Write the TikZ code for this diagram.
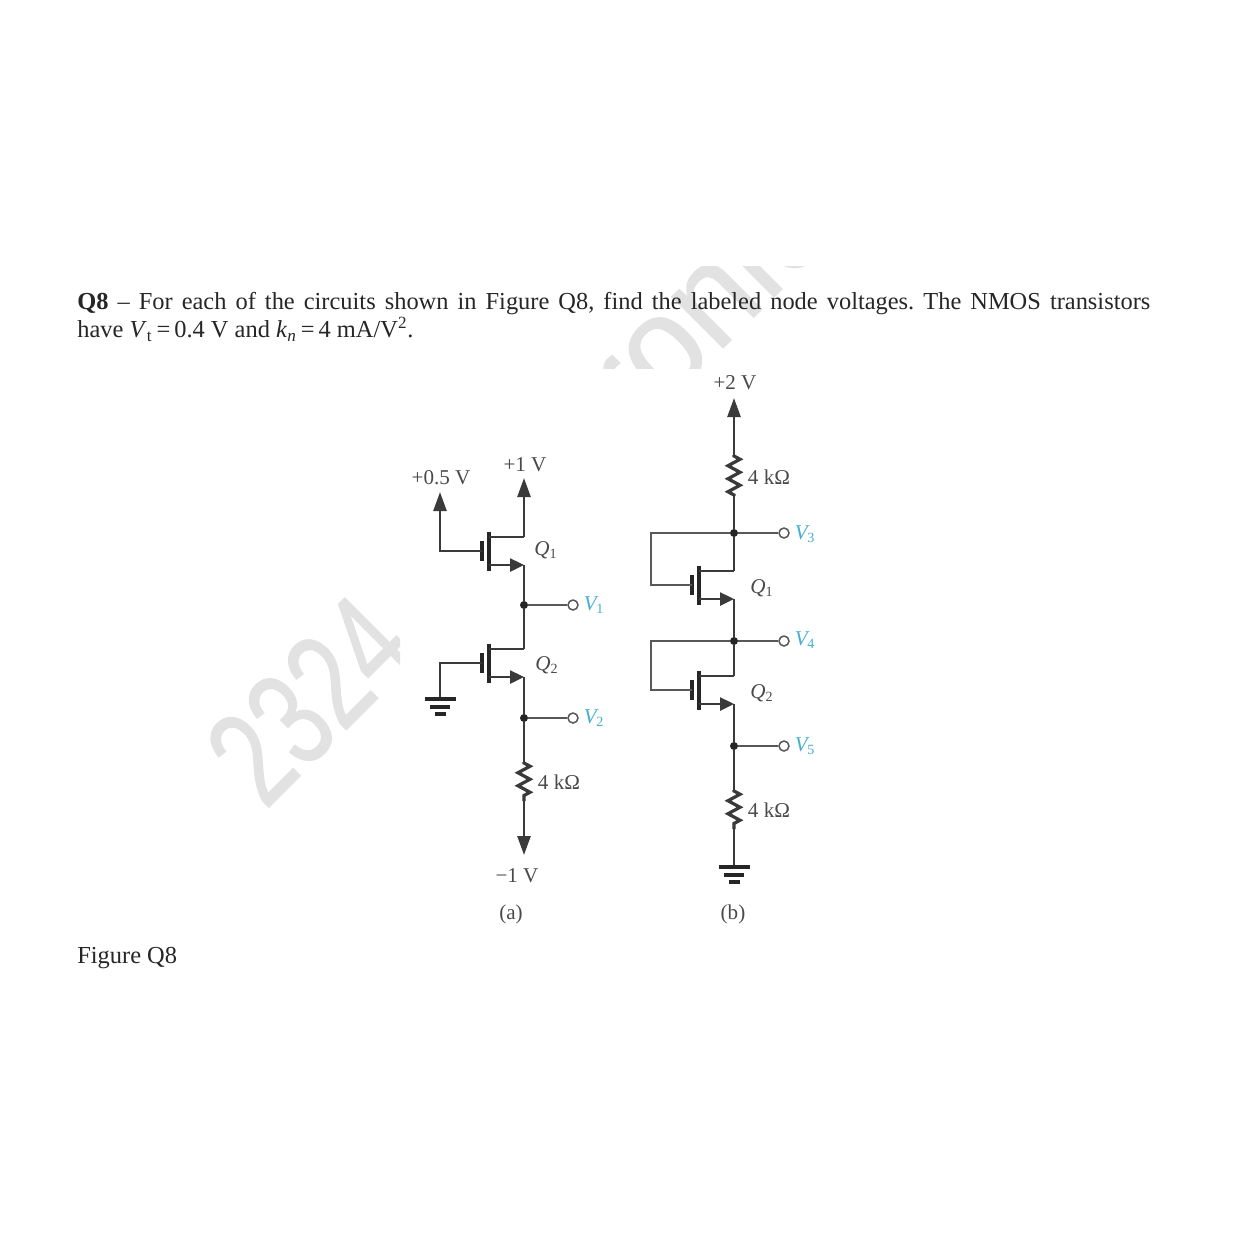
\documentclass[tikz,border=0pt]{standalone}
\usepackage{fontspec}
\setmainfont{Liberation Serif}
\newfontfamily\markfont[FakeBold=0.8]{Liberation Sans}
\usepackage{xcolor}
\usepackage{tikz}
\usetikzlibrary{arrows.meta,decorations.pathmorphing}

\definecolor{wirecol}{HTML}{3A3A3A}
\definecolor{labelcol}{HTML}{4A4A4A}
\definecolor{termcol}{HTML}{45AFCF}
\definecolor{markcol}{HTML}{E2E2E2}

\tikzset{
    wire/.style={line width=0.5mm, color=wirecol},
    thinwire/.style={line width=0.32mm, color=wirecol!85},
    bar/.style={line width=0.8mm, color=black!85},
    arrowup/.style={wire, -{Triangle[length=3.8mm,width=2.6mm]}},
    srcarrow/.style={wire, -{Triangle[length=2.8mm,width=2.6mm]}},
    dotnode/.style={circle, fill=black!85, inner sep=0pt, minimum size=1.6mm},
    terminal/.style={circle, draw=wirecol!85, fill=white, line width=0.3mm, inner sep=0pt, minimum size=2mm},
    res/.style={wire, line width=0.65mm, decorate, decoration={zigzag, segment length=2.6mm, amplitude=1.2mm, pre length=0.2mm, post length=0.2mm}},
    lbl/.style={text=labelcol, font=\fontsize{12}{14}\selectfont, inner sep=0pt},
    vlbl/.style={text=termcol, font=\fontsize{12}{14}\selectfont, inner sep=0pt},
    body/.style={text=black!85, font=\fontsize{13.9}{16.4}\selectfont, inner sep=0pt, anchor=base west},
    markfont/.style={rotate=45, text=markcol, inner sep=0pt, anchor=base west, xscale=0.72,
        font=\markfont\fontsize{78}{78}\selectfont}
}

% one NMOS: #1 name, #2 x of the drain/source line, #3 y of the drain
\newcommand{\nmos}[3]{
    \coordinate (#1d) at (#2,#3);
    \coordinate (#1s) at (#2,#3+28);
    \coordinate (#1g) at (#2-42,#3+14);
    \draw[bar] (#2-35,#3-5.5) -- (#2-35,#3+33.5);
    \draw[bar] (#2-42,#3+4) -- (#2-42,#3+24);
    \draw[wire] (#2-35,#3) -- (#1d);
    \draw[srcarrow] (#2-35,#3+28) -- (#1s);
}

\newcommand{\gnd}[2]{
    \draw[bar] (#1-15.5,#2) -- (#1+15.5,#2);
    \draw[bar] (#1-10,#2+7.5) -- (#1+10,#2+7.5);
    \draw[bar] (#1-5.5,#2+15) -- (#1+5.5,#2+15);
}

\begin{document}
\frenchspacing
\begin{tikzpicture}[x=0.02cm,y=-0.02cm]
    \useasboundingbox (0,0) rectangle (1259,1259);
    \fill[white] (0,0) rectangle (1259,1259);

    % watermark pieces
    \begin{scope}
        \clip (190,560) rectangle (400,830);
        \node[markfont] (marka) at (265,811) {2324};
    \end{scope}
    \begin{scope}
        \clip (550,266) rectangle (830,368);
        \node[markfont, xscale=0.95/0.72] (markb) at (609,462) {tronic};
    \end{scope}

    % question text
    \node[body, text width=0.02cm*1073, align=justify, anchor=north west] (question) at (77,291.5) {%
        \textbf{Q8} -- For each of the circuits shown in Figure Q8, find the labeled node voltages. The NMOS transistors\linebreak
        have \textit{V}\textsubscript{t}\,=\,0.4 V and \textit{k}\textsubscript{\textit{n}}\,=\,4 mA/V\textsuperscript{2}.};
    \node[body] (figlabel) at (77,963) {Figure Q8};

    % circuit (a)
    \nmos{qa}{524}{537}
    \nmos{qb}{524}{649}
    \coordinate (gatea) at (440,492);
    \coordinate (supa) at (524,478);
    \coordinate (gnda) at (440,699);
    \coordinate (resatop) at (524,762);
    \coordinate (resabot) at (524,801);
    \coordinate (nega) at (524,855);
    \node[dotnode] (n1) at (524,605) {};
    \node[dotnode] (n2) at (524,718) {};
    \node[terminal] (v1) at (573,605) {};
    \node[terminal] (v2) at (573,718) {};

    \draw[arrowup] (qag) -| (gatea);
    \draw[arrowup] (qad) -- (supa);
    \draw[wire] (qas) -- (n1) -- (qbd);
    \draw[wire] (qbg) -| (gnda);
    \draw[wire] (qbs) -- (n2) -- (resatop);
    \draw[res] (resatop) -- (resabot);
    \draw[arrowup] (resabot) -- (nega);
    \draw[thinwire] (n1) -- (v1);
    \draw[thinwire] (n2) -- (v2);
    \gnd{440}{699}

    \node[lbl] (la) at (441,478) {+0.5 V};
    \node[lbl] (lb) at (525,465) {+1 V};
    \node[lbl] (lc) at (546,550) {\textit{Q}\textsubscript{1}};
    \node[lbl] (ld) at (547,665) {\textit{Q}\textsubscript{2}};
    \node[vlbl] (le) at (594,605) {\textit{V}\textsubscript{\!1}};
    \node[vlbl] (lf) at (594,718) {\textit{V}\textsubscript{\!2}};
    \node[lbl] (lg) at (559,782) {4 kΩ};
    \node[lbl] (lh) at (517,876) {−1 V};
    \node[lbl] (li) at (511,914) {(a)};

    % circuit (b)
    \nmos{qc}{734}{571}
    \nmos{qd}{734}{676}
    \coordinate (supb) at (734,398);
    \coordinate (resbtop) at (734,455);
    \coordinate (resbbot) at (734,496);
    \coordinate (rescrtop) at (734,790);
    \coordinate (rescbot) at (734,829);
    \coordinate (gndb) at (734,867);
    \coordinate (loopa) at (651,533);
    \coordinate (loopb) at (651,641);
    \node[dotnode] (n3) at (734,533) {};
    \node[dotnode] (n4) at (734,641) {};
    \node[dotnode] (n5) at (734,746) {};
    \node[terminal] (v3) at (784,533) {};
    \node[terminal] (v4) at (784,641) {};
    \node[terminal] (v5) at (784,746) {};

    \draw[arrowup] (resbtop) -- (supb);
    \draw[res] (resbtop) -- (resbbot);
    \draw[wire] (resbbot) -- (n3) -- (qcd);
    \draw[wire] (qcs) -- (n4) -- (qdd);
    \draw[wire] (qds) -- (n5) -- (rescrtop);
    \draw[res] (rescrtop) -- (rescbot);
    \draw[wire] (rescbot) -- (gndb);
    \draw[thinwire] (n3) -- (loopa) |- (qcg);
    \draw[thinwire] (n4) -- (loopb) |- (qdg);
    \draw[thinwire] (n3) -- (v3);
    \draw[thinwire] (n4) -- (v4);
    \draw[thinwire] (n5) -- (v5);
    \gnd{734}{867}

    \node[lbl] (lj) at (735,383) {+2 V};
    \node[lbl] (lk) at (769,477) {4 kΩ};
    \node[lbl] (ll) at (762,588) {\textit{Q}\textsubscript{1}};
    \node[lbl] (lm) at (762,693) {\textit{Q}\textsubscript{2}};
    \node[vlbl] (ln) at (805,534) {\textit{V}\textsubscript{\!3}};
    \node[vlbl] (lo) at (805,640) {\textit{V}\textsubscript{\!4}};
    \node[vlbl] (lp) at (805,746) {\textit{V}\textsubscript{\!5}};
    \node[lbl] (lq) at (769,810) {4 kΩ};
    \node[lbl] (lr) at (733,914) {(b)};
\end{tikzpicture}
\end{document}
